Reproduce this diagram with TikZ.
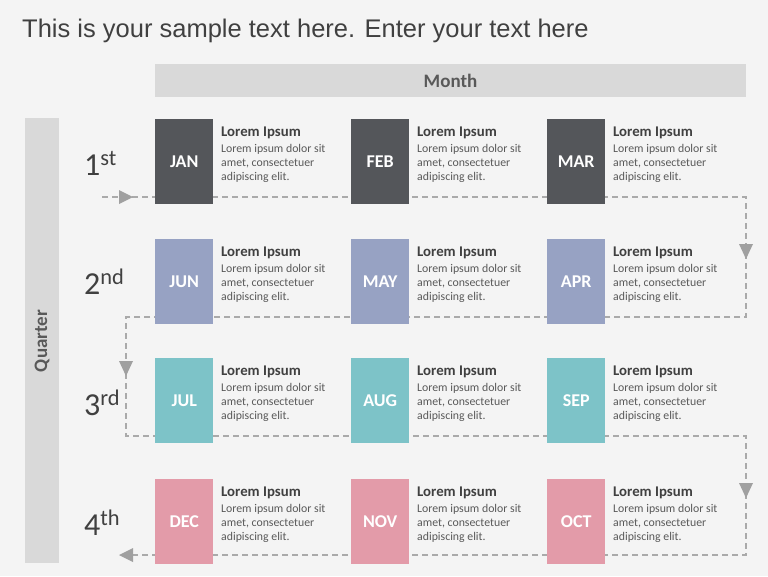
\documentclass[tikz,border=0pt]{standalone}
\usepackage{fontspec}
\setmainfont{Carlito}
\newfontfamily\titlefont{Liberation Sans}
\definecolor{bgc}{RGB}{244,244,244}
\definecolor{barc}{RGB}{217,217,217}
\definecolor{txtc}{RGB}{64,64,64}
\definecolor{bodyc}{RGB}{89,89,89}
\definecolor{dashc}{RGB}{170,170,170}
\definecolor{arrc}{RGB}{160,160,160}
\definecolor{qone}{RGB}{84,86,90}
\definecolor{qtwo}{RGB}{151,162,195}
\definecolor{qthree}{RGB}{125,195,200}
\definecolor{qfour}{RGB}{227,155,169}
\tikzset{
  monthbox/.style={draw=none,minimum width=58pt,minimum height=85pt,inner sep=0pt,anchor=north west,text=white,font=\fontsize{18}{20}\selectfont\bfseries},
  headtxt/.style={anchor=base west,inner sep=0pt,text=txtc,font=\fontsize{14.8}{16}\selectfont\bfseries},
  bodytxt/.style={anchor=base west,inner sep=0pt,text=bodyc,font=\fontsize{11.8}{14}\selectfont,align=left},
  qlabel/.style={anchor=base west,inner sep=0pt,text=txtc,font=\fontsize{32}{34}\selectfont},
  dashline/.style={draw=dashc,line width=1.3pt,dash pattern=on 6pt off 4pt},
  arrowtri/.style={fill=arrc,draw=none}
}
\newcommand{\cell}[5]{%
  \node[monthbox,fill=#4] (#1) at (#2,#3) {#5};
  \node[headtxt] (#1h) at (#2+66,#3+17) {Lorem Ipsum};
  \node[bodytxt] (#1a) at (#2+66,#3+33) {Lorem ipsum dolor sit};
  \node[bodytxt] (#1b) at (#2+66,#3+47) {amet, consectetuer};
  \node[bodytxt] (#1c) at (#2+66,#3+61) {adipiscing elit.};
}
\begin{document}
\begin{tikzpicture}[x=1pt,y=-1pt]
\fill[bgc] (0,0) rectangle (768,576);
\useasboundingbox (0,0) rectangle (768,576);
% title
\node[anchor=base west,inner sep=0pt,text=txtc] (title) at (22,37)
  {\titlefont\fontsize{25.5}{28}\selectfont This is your sample text here. Enter your text here};
% month bar
\fill[barc] (155,64) rectangle (746,97);
\node[text=bodyc,font=\fontsize{19}{21}\selectfont\bfseries] (month) at (450.5,81) {Month};
% quarter bar
\fill[barc] (25,118) rectangle (59,563);
\node[rotate=90,text=bodyc,font=\fontsize{19}{21}\selectfont\bfseries] (quarter) at (42,341) {Quarter};
% path coordinates
\coordinate (p0) at (102,197);
\coordinate (p1) at (746,197);
\coordinate (p2) at (746,317);
\coordinate (p3) at (126,317);
\coordinate (p4) at (126,436);
\coordinate (p5) at (746,436);
\coordinate (p6) at (746,555);
\coordinate (p7) at (125,555);
\draw[dashline] (p0) -- (p1) -- (p2) -- (p3) -- (p4) -- (p5) -- (p6) -- (p7);
% arrow heads
\fill[arrowtri] (119,190) -- (133,197) -- (119,204) -- cycle;
\fill[arrowtri] (739,244) -- (753,244) -- (746,259) -- cycle;
\fill[arrowtri] (119,361) -- (133,361) -- (126,376) -- cycle;
\fill[arrowtri] (739,483) -- (753,483) -- (746,498) -- cycle;
\fill[arrowtri] (133,548) -- (119,555) -- (133,562) -- cycle;
% quarter labels
\node[qlabel] (q1) at (84,175) {1\textsuperscript{st}};
\node[qlabel] (q2) at (84,294) {2\textsuperscript{nd}};
\node[qlabel] (q3) at (84,415) {3\textsuperscript{rd}};
\node[qlabel] (q4) at (84,535) {4\textsuperscript{th}};
% cells
\cell{jan}{155}{119}{qone}{JAN}
\cell{feb}{351}{119}{qone}{FEB}
\cell{mar}{547}{119}{qone}{MAR}
\cell{jun}{155}{239}{qtwo}{JUN}
\cell{may}{351}{239}{qtwo}{MAY}
\cell{apr}{547}{239}{qtwo}{APR}
\cell{jul}{155}{358}{qthree}{JUL}
\cell{aug}{351}{358}{qthree}{AUG}
\cell{sep}{547}{358}{qthree}{SEP}
\cell{dec}{155}{479}{qfour}{DEC}
\cell{nov}{351}{479}{qfour}{NOV}
\cell{oct}{547}{479}{qfour}{OCT}
\end{tikzpicture}
\end{document}
